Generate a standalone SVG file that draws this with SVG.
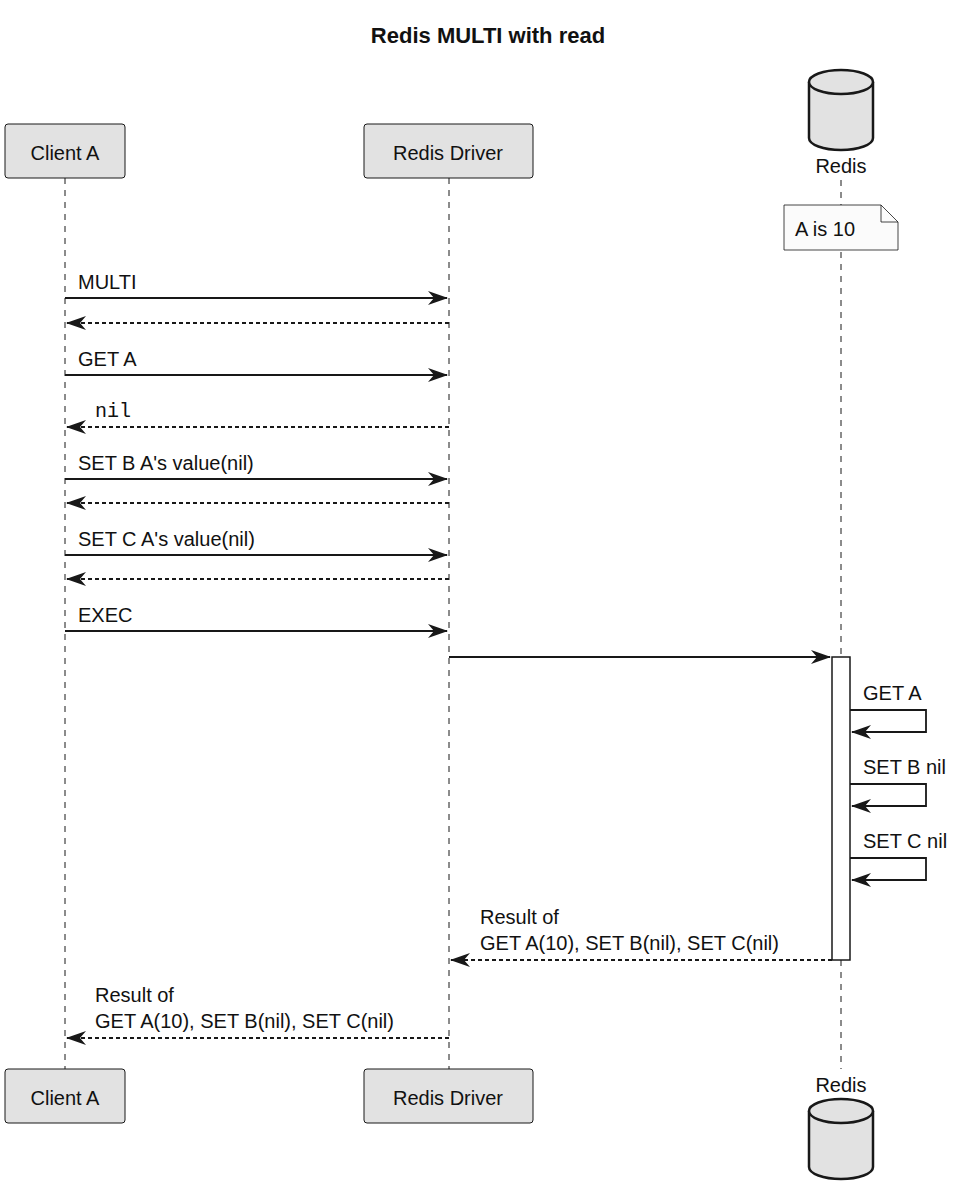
<svg xmlns="http://www.w3.org/2000/svg" width="968" height="1200" viewBox="0 0 968 1200">
<style>
text{font-family:"Liberation Sans",Arial,sans-serif;font-size:20px;fill:#111}
.title{font-weight:bold;font-size:22px}
.box{fill:#e2e2e2;stroke:#181818;stroke-width:1}
.life{stroke:#181818;stroke-width:1;stroke-dasharray:6,6}
.msg{stroke:#181818;stroke-width:1.8;fill:none}
.ret{stroke:#181818;stroke-width:1.8;fill:none;stroke-dasharray:4,3}
.cyl{fill:#e2e2e2;stroke:#181818;stroke-width:2.5}
.mono{font-family:"Liberation Mono","DejaVu Sans Mono",monospace}
</style>
<defs>
<marker id="ah" viewBox="0 0 20 14" refX="19" refY="7" markerWidth="20" markerHeight="14" markerUnits="userSpaceOnUse" orient="auto">
<path d="M0,0 L20,7 L0,14 L6,7 Z" fill="#181818"/>
</marker>
</defs>
<rect width="968" height="1200" fill="#fff"/>
<text class="title" x="488" y="43" text-anchor="middle">Redis MULTI with read</text>
<g id="lifelines">
<line class="life" x1="65" y1="178" x2="65" y2="1069"/>
<line class="life" x1="449" y1="178" x2="449" y2="1069"/>
<line class="life" x1="841" y1="180" x2="841" y2="1069"/>
</g>
<g id="clientA">
<rect class="box" x="5" y="124" width="120" height="54" rx="3"/>
<text x="65" y="160" text-anchor="middle">Client A</text>
<rect class="box" x="5" y="1069" width="120" height="54" rx="3"/>
<text x="65" y="1105" text-anchor="middle">Client A</text>
</g>
<g id="driver">
<rect class="box" x="364" y="124" width="169" height="54" rx="3"/>
<text x="448" y="160" text-anchor="middle">Redis Driver</text>
<rect class="box" x="364" y="1069" width="169" height="54" rx="3"/>
<text x="448" y="1105" text-anchor="middle">Redis Driver</text>
</g>
<g id="redis">
<path class="cyl" d="M809,82 A32,12 0 0 1 873,82 V138 A32,12 0 0 1 809,138 Z"/>
<path class="cyl" fill="none" d="M809,82 A32,12 0 0 0 873,82"/>
<text x="841" y="173" text-anchor="middle">Redis</text>
<text x="841" y="1092" text-anchor="middle">Redis</text>
<path class="cyl" d="M809,1111 A32,12 0 0 1 873,1111 V1167 A32,12 0 0 1 809,1167 Z"/>
<path class="cyl" fill="none" d="M809,1111 A32,12 0 0 0 873,1111"/>
</g>
<g id="note">
<path d="M784,205 H881 L898,222 V250 H784 Z" fill="#fbfbfb" stroke="#181818" stroke-width="0.8"/>
<path d="M881,205 V222 H898" fill="none" stroke="#181818" stroke-width="0.8"/>
<text x="795" y="236">A is 10</text>
</g>
<g id="activation">
<rect x="832" y="657" width="18" height="303" fill="#fff" stroke="#181818" stroke-width="1.5"/>
</g>
<g id="connectors">
<line class="msg" x1="65" y1="298" x2="447" y2="298" marker-end="url(#ah)"/>
<line class="ret" x1="449" y1="323" x2="67" y2="323" marker-end="url(#ah)"/>
<line class="msg" x1="65" y1="375" x2="447" y2="375" marker-end="url(#ah)"/>
<line class="ret" x1="449" y1="427" x2="67" y2="427" marker-end="url(#ah)"/>
<line class="msg" x1="65" y1="479" x2="447" y2="479" marker-end="url(#ah)"/>
<line class="ret" x1="449" y1="503" x2="67" y2="503" marker-end="url(#ah)"/>
<line class="msg" x1="65" y1="555" x2="447" y2="555" marker-end="url(#ah)"/>
<line class="ret" x1="449" y1="579" x2="67" y2="579" marker-end="url(#ah)"/>
<line class="msg" x1="65" y1="631" x2="447" y2="631" marker-end="url(#ah)"/>
<line class="msg" x1="449" y1="657" x2="830" y2="657" marker-end="url(#ah)"/>
<path class="msg" d="M850,710 H926 V732 H852" marker-end="url(#ah)"/>
<path class="msg" d="M850,784 H926 V806 H852" marker-end="url(#ah)"/>
<path class="msg" d="M850,858 H926 V880 H852" marker-end="url(#ah)"/>
<line class="ret" x1="832" y1="960" x2="451" y2="960" marker-end="url(#ah)"/>
<line class="ret" x1="449" y1="1038" x2="67" y2="1038" marker-end="url(#ah)"/>
</g>
<g id="labels">
<text x="78" y="289">MULTI</text>
<text x="78" y="366">GET A</text>
<text class="mono" x="95" y="417">nil</text>
<text x="78" y="470">SET B A's value(nil)</text>
<text x="78" y="546">SET C A's value(nil)</text>
<text x="78" y="622">EXEC</text>
<text x="863" y="700">GET A</text>
<text x="863" y="774">SET B nil</text>
<text x="863" y="848">SET C nil</text>
<text x="480" y="924">Result of</text>
<text x="480" y="950">GET A(10), SET B(nil), SET C(nil)</text>
<text x="95" y="1002">Result of</text>
<text x="95" y="1028">GET A(10), SET B(nil), SET C(nil)</text>
</g>
</svg>
